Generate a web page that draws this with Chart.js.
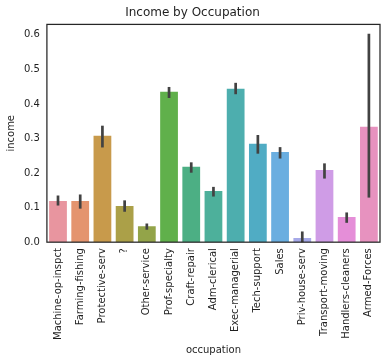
<!DOCTYPE html>
<html>
<head>
<meta charset="utf-8">
<script src="https://cdn.jsdelivr.net/npm/chart.js@4/dist/chart.umd.min.js"></script>
<style>
  html, body { margin: 0; padding: 0; background: #fff; }
  #wrap { width: 386px; height: 360px; }
</style>
</head>
<body>
<div id="wrap"><canvas id="incomeChart" width="386" height="360"></canvas></div>
<script>
// Data
const occupations = ['Machine-op-inspct', 'Farming-fishing', 'Protective-serv', '?', 'Other-service',
  'Prof-specialty', 'Craft-repair', 'Adm-clerical', 'Exec-managerial', 'Tech-support', 'Sales',
  'Priv-house-serv', 'Transport-moving', 'Handlers-cleaners', 'Armed-Forces'];
const incomeMean = [0.119, 0.119, 0.308, 0.105, 0.046, 0.435, 0.218, 0.148, 0.444, 0.285, 0.261, 0.012, 0.209, 0.073, 0.334];
const ciLow = [0.106, 0.097, 0.274, 0.088, 0.036, 0.417, 0.201, 0.132, 0.428, 0.256, 0.242, 0.0, 0.184, 0.056, 0.129];
const ciHigh = [0.135, 0.138, 0.337, 0.121, 0.054, 0.449, 0.231, 0.160, 0.461, 0.310, 0.275, 0.031, 0.228, 0.086, 0.603];
const yTicks = [0, 0.1, 0.2, 0.3, 0.4, 0.5, 0.6];
const barColors = ['#e8959f', '#e4946e', '#c89a4b', '#aba048', '#93a449', '#60b04b', '#4caf84',
  '#4db09b', '#4daeae', '#50acc4', '#6aaee0', '#a6a9e8', '#cf9ce6', '#e58ed8', '#e792bf'];

const textColor = '#1f1f1f';
Chart.defaults.font.family = "'DejaVu Sans', sans-serif";
Chart.defaults.color = textColor;

// error bars, drawn through the scales
const errorBars = {
  id: 'errorBars',
  afterDatasetsDraw(chart) {
    const ctx = chart.ctx;
    const x = chart.scales.x, y = chart.scales.y;
    ctx.save();
    ctx.strokeStyle = '#424242';
    ctx.lineWidth = 2.7;
    ciLow.forEach(function (lo, i) {
      const px = x.getPixelForValue(i);
      ctx.beginPath();
      ctx.moveTo(px, y.getPixelForValue(lo));
      ctx.lineTo(px, y.getPixelForValue(ciHigh[i]));
      ctx.stroke();
    });
    ctx.restore();
  }
};

// matplotlib style box round the axes
const frame = {
  id: 'frame',
  afterDraw(chart) {
    const a = chart.chartArea, ctx = chart.ctx;
    ctx.save();
    ctx.strokeStyle = '#262626';
    ctx.lineWidth = 1.25;
    ctx.strokeRect(a.left, a.top, a.right - a.left, a.bottom - a.top);
    ctx.restore();
  }
};

new Chart(document.getElementById('incomeChart').getContext('2d'), {
  type: 'bar',
  data: {
    labels: occupations,
    datasets: [{
      label: 'income',
      data: incomeMean,
      backgroundColor: barColors,
      borderWidth: 0,
      barPercentage: 0.8,
      categoryPercentage: 1.0
    }]
  },
  options: {
    responsive: false,
    animation: false,
    layout: { padding: { left: 5, right: 6, top: 0, bottom: 4 } },
    plugins: {
      legend: { display: false },
      tooltip: { enabled: false },
      title: {
        display: true,
        text: 'Income by Occupation',
        color: textColor,
        font: { size: 12, weight: 'normal' },
        padding: { top: 6, bottom: 4 }
      }
    },
    scales: {
      x: {
        grid: { display: false, drawTicks: true, tickLength: 4, tickColor: '#262626' },
        border: { display: false },
        ticks: { maxRotation: 90, minRotation: 90, autoSkip: false, padding: 2, font: { size: 10 } },
        title: { display: true, text: 'occupation', font: { size: 10 }, padding: { top: 2, bottom: 0 } }
      },
      y: {
        min: 0,
        max: 0.63,
        afterBuildTicks: function (scale) {
          scale.ticks = yTicks.map(function (v) { return { value: v }; });
        },
        grid: { display: false, drawTicks: true, tickLength: 4, tickColor: '#262626' },
        border: { display: false },
        ticks: {
          padding: 3,
          font: { size: 10 },
          callback: function (v) { return Number(v).toFixed(1); }
        },
        title: { display: true, text: 'income', font: { size: 10 }, padding: { top: 0, bottom: 4 } }
      }
    }
  },
  plugins: [errorBars, frame]
});
</script>
</body>
</html>
